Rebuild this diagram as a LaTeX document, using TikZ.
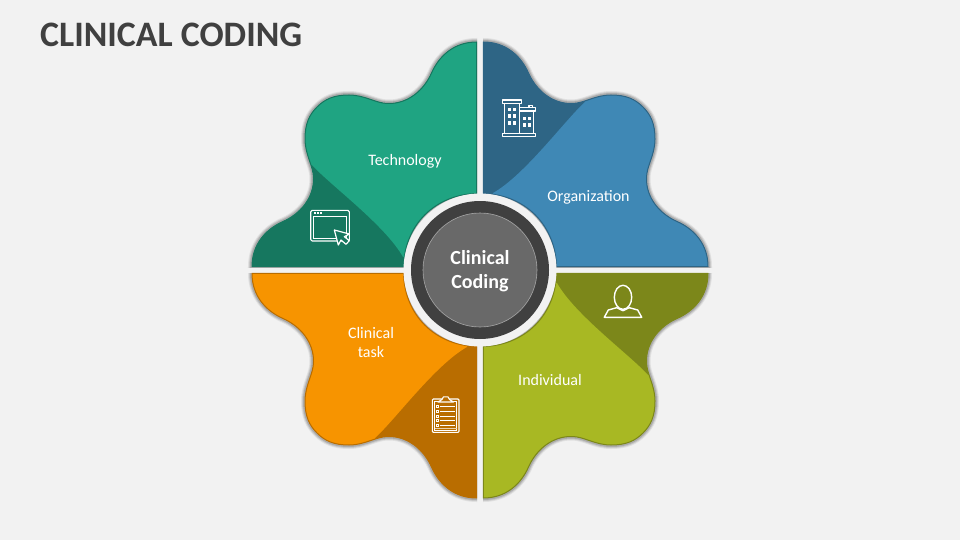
\documentclass[tikz,border=0pt]{standalone}
\usepackage{fontspec}
\setmainfont{Carlito}
\definecolor{bg}{HTML}{F2F2F2}
\definecolor{techL}{HTML}{1FA482}\definecolor{techD}{HTML}{16775F}
\definecolor{orgL}{HTML}{3F88B5}\definecolor{orgD}{HTML}{2E6585}
\definecolor{indL}{HTML}{A8B823}\definecolor{indD}{HTML}{7C871A}
\definecolor{taskL}{HTML}{F79400}\definecolor{taskD}{HTML}{B96D00}
\definecolor{ink}{HTML}{404040}\definecolor{hub}{HTML}{696969}
\def\petal{(-228,-3.3) .. controls (-228,-26) and (-214,-41) .. (-197,-48.5)
 .. controls (-180,-56) and (-166,-72) .. (-166.5,-92)
 .. controls (-166.5,-104) and (-175,-115) .. (-175,-131)
 .. controls (-175,-146) and (-171,-155) .. (-163,-163)
 .. controls (-155,-171) and (-146,-175) .. (-131,-175)
 .. controls (-115,-175) and (-104,-166.5) .. (-92,-166.5)
 .. controls (-72,-166) and (-56,-180) .. (-48.5,-197)
 .. controls (-41,-214) and (-26,-228) .. (-3.3,-228)
 -- (-3.3,-76.5) .. controls (-45,-75.5) and (-75.5,-45) .. (-76.5,-3.3) -- cycle}
\newcommand{\quadrant}[3]{%
 \begin{scope}[shift={(480,270)},rotate=#1]
  \begin{scope}
   \clip (-240,-240) rectangle (-3,-3);
   \draw[black!55,opacity=.14,line width=8] \petal;
   \draw[black!55,opacity=.22,line width=6] \petal;
   \draw[black!55,opacity=.34,line width=4] \petal;
  \end{scope}
  \fill[fill=#3] \petal;
  \begin{scope}
   \clip \petal;
   \fill[fill=#2] (-168,-105) .. controls (-150,-85) and (-95,-45) .. (-77,-13)
     -- (0,0) -- (0,-240) -- (-240,-240) -- (-240,-105) -- cycle;
  \end{scope}
  \draw[draw=#3,line width=1,line join=round] \petal;
 \end{scope}}
\tikzset{
 lbl/.style={text=white,font=\fontsize{16}{19}\selectfont,align=center,inner sep=0},
 ico/.style={draw=white,line width=1.1,line join=round},
 icot/.style={draw=white,line width=.9},
 win/.style={fill=white,draw=none}}
\begin{document}
\begin{tikzpicture}[x=1pt,y=-1pt]
\useasboundingbox (0,0) rectangle (960,540);
\fill[bg] (0,0) rectangle (960,540);
\node[anchor=west,inner sep=0,text=ink,font=\fontsize{35.8}{40}\selectfont\bfseries] (title) at (40,34.5) {CLINICAL CODING};
\quadrant{0}{techL}{techD}
\quadrant{-90}{orgL}{orgD}
\quadrant{180}{indL}{indD}
\quadrant{90}{taskL}{taskD}
\node[circle,fill=bg,minimum size=153,inner sep=0] (halo) at (480,270) {};
\node[circle,fill=ink,minimum size=138,inner sep=0] (ring) at (480,270) {};
\node[circle,fill=hub,draw=black!35,line width=.6,minimum size=114,inner sep=0] (hubn) at (480,270) {};
\node[text=white,align=center,inner sep=0,font=\fontsize{20}{24}\selectfont\bfseries] (hubt) at (480,271.5) {Clinical\\Coding};
\node[lbl] (tech) at (405,161) {Technology};
\node[lbl] (org) at (588.5,197) {Organization};
\node[lbl] (task) at (371,343) {Clinical\\task};
\node[lbl] (indiv) at (550,380.5) {Individual};
% building
\draw[ico] (502.3,100) rectangle (521.7,103.3);
\draw[ico] (504.3,103.3) rectangle (519.7,133.3);
\draw[ico] (502.3,133.3) rectangle (535.7,136.7);
\draw[ico] (519.7,107.7) rectangle (535.7,111);
\draw[ico] (519.7,111) -- (533.7,111) -- (533.7,133.3);
\draw[ico] (529,107.7) -- (529,105.3) -- (532.3,105.3) -- (532.3,107.7);
\foreach \yy in {107.7,114.5,121.5}{\fill[win] (507.5,\yy) rectangle +(3,3.4); \fill[win] (512.8,\yy) rectangle +(3,3.4);}
\foreach \yy in {116.7,123.5}{\fill[win] (522.7,\yy) rectangle +(3,3.4); \fill[win] (527.8,\yy) rectangle +(3,3.4);}
% window and cursor
\draw[ico,rounded corners=1.5] (310.7,210.3) rectangle (349.3,241);
\draw[icot] (313.3,216) rectangle (346.7,238);
\foreach \xx in {314,317,320}{\fill[win] (\xx,212.4) rectangle +(1.8,1.5);}
\draw[ico,fill=techD,line width=1.2] (334.3,230) -- (338.3,245) -- (341,240) -- (346,244.3) -- (349.3,240.7) -- (344.3,236.7) -- (349.3,234) -- cycle;
% clipboard
\draw[ico,rounded corners=1] (432.3,399) rectangle (459,432.3);
\draw[icot] (434.8,401.7) rectangle (456.7,430);
\draw[ico,fill=taskD] (438,402) -- (442,399.5) -- (443.5,396.8) -- (448,396.8) -- (449.5,399.5) -- (453.5,402) -- cycle;
\foreach \yy in {406.7,411.7,416,420.7,425.7}{
 \draw[white,line width=.7] (436.3,\yy-1) rectangle +(2,2);
 \draw[white,line width=.9] (440,\yy) -- (455,\yy);}
\draw[white!70!taskD,line width=1.2] (435,428.7) -- (456.5,428.7);
% person
\draw[ico,line width=1.4] (623,297.3) ellipse [x radius=8.7,y radius=12];
\draw[ico,line width=1.4] (604.3,317.3) -- (608.3,310) -- (616.7,307.7) -- (623,310.7) -- (629.3,307.7) -- (637.7,310) -- (641.7,317.3) -- cycle;
\end{tikzpicture}
\end{document}
